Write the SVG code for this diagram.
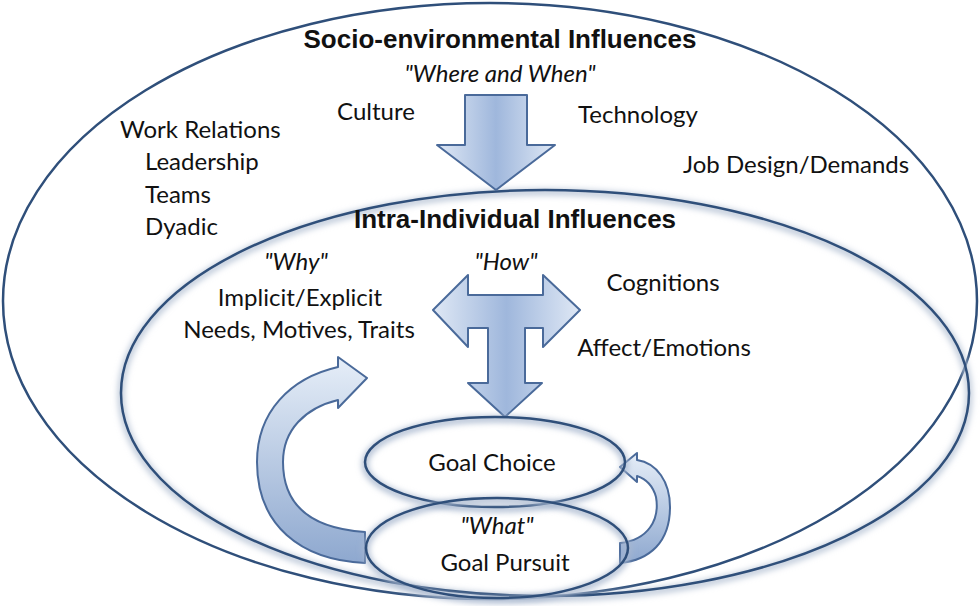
<svg xmlns="http://www.w3.org/2000/svg" width="980" height="606" viewBox="0 0 980 606">
<defs>
<linearGradient id="ag" x1="0" y1="0" x2="1" y2="0"><stop offset="0" stop-color="#dfe8f5"/><stop offset="0.5" stop-color="#9fb7dc"/><stop offset="1" stop-color="#dfe8f5"/></linearGradient>
<linearGradient id="cg" x1="0" y1="0" x2="0" y2="1"><stop offset="0" stop-color="#e6eef8"/><stop offset="1" stop-color="#8ea8cf"/></linearGradient>
<filter id="sh" x="-10%" y="-10%" width="120%" height="120%"><feGaussianBlur stdDeviation="3"/></filter>
</defs>
<style>
text{font-family:Lato,"Open Sans",sans-serif;font-size:24px;fill:#111}
.b{font-family:"Liberation Sans",Arial,sans-serif;font-weight:bold;font-size:26px}
.i{font-style:italic}
.e{fill:none;stroke:#2f4f7a;stroke-width:2.5}
.a{stroke:#4a6a9a;stroke-width:2;stroke-linejoin:round}
</style>
<rect width="980" height="606" fill="#fff"/>
<g id="outer"><ellipse cx="490" cy="301" rx="487" ry="298" class="e"/></g>
<g id="inner">
<ellipse cx="545" cy="395" rx="424" ry="203" fill="none" stroke="#b8c4d6" stroke-width="6" filter="url(#sh)"/>
<ellipse cx="545" cy="393" rx="424" ry="203" class="e"/></g>
<g id="connectors">
<path class="a" fill="url(#ag)" d="M465,95 L527,95 L527,145 L555,145 L496,190 L437,145 L465,145 Z"/>
<path class="a" fill="url(#ag)" d="M433,310 L468,275 L468,295 L543,295 L543,275 L580,310 L543,347 L543,328 L525,328 L525,383 L542,383 L505,417 L468,383 L488,383 L488,328 L468,328 L468,347 Z"/>
<path class="a" fill="url(#cg)" d="M365,532 C305,528 283,500 283,462 C283,430 305,408 338,400 L338,408 L367,378 L338,357 L338,367 C290,378 257,412 257,462 C257,525 300,560 365,563 Z"/>
<path class="a" fill="url(#cg)" d="M620,543 C648,540 660,520 656,497 C653,486 646,479 637,476 L637,482 L620,467 L637,453 L637,460 C657,463 670,482 670,507 C670,542 650,560 620,563 Z"/>
</g>
<g id="goal-choice">
<ellipse cx="495" cy="464" rx="130" ry="45" fill="none" stroke="#a9b8cf" stroke-width="6" filter="url(#sh)"/>
<ellipse cx="495" cy="462" rx="130" ry="45" fill="#fff" fill-opacity="0.6" class="e"/>
<text x="492" y="471" text-anchor="middle">Goal Choice</text></g>
<g id="goal-pursuit">
<ellipse cx="497" cy="550" rx="131" ry="50" fill="none" stroke="#a9b8cf" stroke-width="6" filter="url(#sh)"/>
<ellipse cx="497" cy="548" rx="131" ry="50" fill="none" class="e"/>
<text x="497" y="534" text-anchor="middle" class="i">"What"</text>
<text x="505" y="571" text-anchor="middle">Goal Pursuit</text></g>
<g id="labels">
<text x="500" y="48" text-anchor="middle" class="b">Socio-environmental Influences</text>
<text x="500" y="82" text-anchor="middle" class="i">"Where and When"</text>
<text x="376" y="120" text-anchor="middle">Culture</text>
<text x="638" y="123" text-anchor="middle">Technology</text>
<text x="120" y="138">Work Relations</text>
<text x="145" y="170">Leadership</text>
<text x="145" y="203">Teams</text>
<text x="145" y="235">Dyadic</text>
<text x="683" y="173">Job Design/Demands</text>
<text x="515" y="228" text-anchor="middle" class="b">Intra-Individual Influences</text>
<text x="296" y="270" text-anchor="middle" class="i">"Why"</text>
<text x="506" y="270" text-anchor="middle" class="i">"How"</text>
<text x="300" y="306" text-anchor="middle">Implicit/Explicit</text>
<text x="299" y="338" text-anchor="middle">Needs, Motives, Traits</text>
<text x="663" y="291" text-anchor="middle">Cognitions</text>
<text x="664" y="356" text-anchor="middle">Affect/Emotions</text>
</g>
</svg>
